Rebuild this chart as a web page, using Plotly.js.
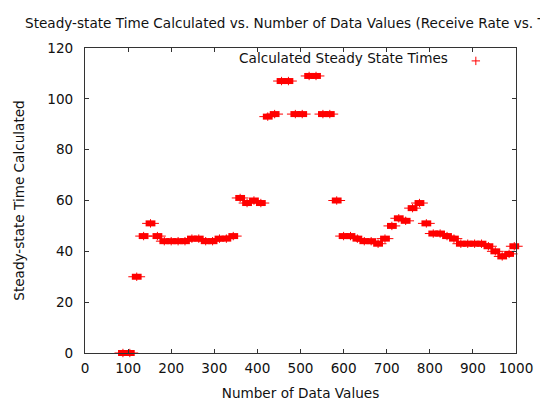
<!DOCTYPE html>
<html>
<head>
<meta charset="utf-8">
<script src="https://cdn.plot.ly/plotly-3.0.1.min.js"></script>
<style>
html, body { margin: 0; padding: 0; background: #fff; }
#chart { width: 540px; height: 405px; }
</style>
</head>
<body>
<div id="chart"></div>
<script>
// Number of data values (centre of each 16-value group)
const dataValues = [88, 104, 120, 136, 152, 168, 184, 200, 216, 232, 248, 264, 280, 296, 312, 328,
  344, 360, 376, 392, 408, 424, 440, 456, 472, 488, 504, 520, 536, 552, 568, 584,
  600, 616, 632, 648, 664, 680, 696, 712, 728, 744, 760, 776, 792, 808, 824, 840,
  856, 872, 888, 904, 920, 936, 952, 968, 984, 996];
// Calculated steady-state time
const steadyTimes = [0, 0, 30, 46, 51, 46, 44, 44, 44, 44, 45, 45, 44, 44, 45, 45,
  46, 61, 59, 60, 59, 93, 94, 107, 107, 94, 94, 109, 109, 94, 94, 60,
  46, 46, 45, 44, 44, 43, 45, 50, 53, 52, 57, 59, 51, 47, 47, 46,
  45, 43, 43, 43, 43, 42, 40, 38, 39, 42];

const xTicks = [0, 100, 200, 300, 400, 500, 600, 700, 800, 900, 1000];
const yTicks = [0, 20, 40, 60, 80, 100, 120];

const seriesName = 'Calculated Steady State Times';
const red = '#ff0000';
const font = 'DejaVu Sans, Liberation Sans, sans-serif';
const fs = 13.6;

const body = {
  x: dataValues, y: steadyTimes, type: 'scatter', mode: 'markers',
  cliponaxis: false, showlegend: false, hoverinfo: 'skip',
  marker: { symbol: 'line-ew', size: 7, color: red, line: { color: red, width: 6 } }
};
const arms = {
  x: dataValues, y: steadyTimes, type: 'scatter', mode: 'markers',
  cliponaxis: false, showlegend: false, hoverinfo: 'skip',
  marker: { symbol: 'line-ew', size: 12, color: red, line: { color: red, width: 1 } }
};
const cross = {
  x: dataValues, y: steadyTimes, type: 'scatter', mode: 'markers',
  cliponaxis: false, name: ' ',
  marker: { symbol: 'cross-thin', size: 6, color: red, line: { color: red, width: 1 } }
};

const axisCommon = {
  showgrid: false, zeroline: false, showline: true, linecolor: '#333', linewidth: 1,
  mirror: 'ticks', ticks: 'inside', ticklen: 4, tickwidth: 1, tickcolor: '#333',
  tickfont: { family: font, size: fs, color: '#111' }
};

const layout = {
  width: 540, height: 405,
  margin: { l: 85, r: 24, t: 48, b: 52, pad: 0 },
  paper_bgcolor: '#fff', plot_bgcolor: '#fff',
  font: { family: font, size: fs, color: '#111' },
  title: {
    text: 'Steady-state Time Calculated vs. Number of Data Values (Receive Rate vs. Time)',
    x: 25 / 540, xref: 'container', xanchor: 'left',
    y: 1 - 23 / 405, yref: 'container', yanchor: 'middle',
    font: { family: font, size: fs, color: '#111' }
  },
  xaxis: Object.assign({}, axisCommon, {
    range: [0, 1000], tickvals: xTicks, ticktext: xTicks.map(String),
    ticklabelstandoff: 3,
    title: { text: 'Number of Data Values', font: { family: font, size: fs, color: '#111' }, standoff: 13 }
  }),
  yaxis: Object.assign({}, axisCommon, {
    range: [0, 120], tickvals: yTicks, ticktext: yTicks.map(String),
    ticklabelstandoff: 8,
    title: { text: 'Steady-state Time Calculated', font: { family: font, size: fs, color: '#111' }, standoff: 19 }
  }),
  legend: {
    title: { text: seriesName, side: 'left', font: { family: font, size: fs, color: '#111' } },
    x: 0.977, xanchor: 'right', y: 1.008, yanchor: 'top',
    bgcolor: 'rgba(0,0,0,0)', borderwidth: 0,
    font: { family: font, size: fs, color: '#111' }
  },
  showlegend: true
};

Plotly.newPlot('chart', [body, arms, cross], layout, { staticPlot: true, displayModeBar: false });
</script>
</body>
</html>
